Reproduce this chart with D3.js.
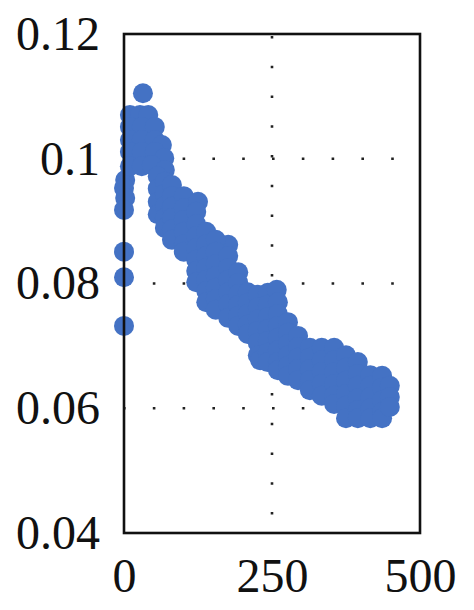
<!DOCTYPE html>
<html>
<head>
<meta charset="utf-8">
<script src="https://cdn.jsdelivr.net/npm/d3@7"></script>
<style>
  html, body { margin: 0; padding: 0; background: #fff; }
  svg { display: block; }
</style>
</head>
<body>
<svg id="chart" width="474" height="610"></svg>
<script>
// ---- data ----
const xDomain = [0, 500];
const yDomain = [0.04, 0.12];
const xTicks = [0, 250, 500];
const yTicks = [0.04, 0.06, 0.08, 0.1, 0.12];
const xGrid = [250];
const yGrid = [0.06, 0.08, 0.1];

// scatter series: [x, y]
const seriesPoints = [
  [32,0.1105],
  [2,0.0966],[0,0.0953],[2,0.0937],[0,0.0918],[0,0.0851],[0,0.0810],[0,0.0732],
  [10,0.1070],[27,0.1070],[41,0.1070],
  [10,0.1051],[30,0.1051],[52,0.1051],
  [10,0.1030],[30,0.1030],[52,0.1030],[64,0.1022],
  [10,0.1011],[30,0.1011],[52,0.1011],[68,0.1001],
  [10,0.0988],[30,0.0988],[47,0.0990],[69,0.0982],
  [57,0.0972],[57,0.0952],[57,0.0931],[57,0.0911],
  [69,0.0963],[69,0.0944],[69,0.0924],[69,0.0905],[69,0.0889],
  [81,0.0958],[81,0.0940],[81,0.0923],[81,0.0905],[81,0.0887],[81,0.0870],
  [101,0.0940],[101,0.0921],[101,0.0902],[101,0.0883],[101,0.0863],[101,0.0851],
  [125,0.0931],
  [122,0.0915],[122,0.0895],[122,0.0876],[122,0.0857],[122,0.0838],[122,0.0820],[122,0.0802],
  [139,0.0883],[139,0.0863],[139,0.0844],[139,0.0825],[139,0.0806],[139,0.0788],[139,0.0770],
  [176,0.0862],
  [155,0.0870],[155,0.0851],[155,0.0831],[155,0.0812],[155,0.0793],[155,0.0775],[155,0.0758],
  [176,0.0844],[176,0.0825],[176,0.0806],[176,0.0786],[176,0.0767],[176,0.0745],
  [193,0.0818],[193,0.0801],[193,0.0783],[193,0.0766],[193,0.0748],[193,0.0732],
  [209,0.0786],[209,0.0769],[209,0.0751],[209,0.0734],[209,0.0719],
  [226,0.0782],[226,0.0762],[226,0.0743],[226,0.0724],[226,0.0705],[226,0.0685],
  [230,0.0677],
  [243,0.0785],[243,0.0766],[243,0.0746],[243,0.0727],[243,0.0708],[243,0.0689],[243,0.0674],
  [258,0.0790],
  [260,0.0770],[260,0.0751],[260,0.0732],[260,0.0713],[260,0.0693],[260,0.0674],[260,0.0661],
  [277,0.0738],[277,0.0721],[277,0.0703],[277,0.0685],[277,0.0668],[277,0.0652],
  [294,0.0716],[294,0.0698],[294,0.0681],[294,0.0663],[294,0.0645],
  [314,0.0697],[314,0.0681],[314,0.0663],[314,0.0645],[314,0.0629],
  [334,0.0697],[334,0.0677],[334,0.0658],[334,0.0639],[334,0.0620],
  [355,0.0697],[355,0.0677],[355,0.0658],[355,0.0639],[355,0.0620],[355,0.0607],
  [375,0.0685],[375,0.0665],[375,0.0644],[375,0.0623],[375,0.0604],[375,0.0584],
  [395,0.0674],[395,0.0655],[395,0.0636],[395,0.0616],[395,0.0597],[395,0.0584],
  [416,0.0653],[416,0.0636],[416,0.0618],[416,0.0600],[416,0.0584],
  [436,0.0652],[436,0.0633],[436,0.0613],[436,0.0594],[436,0.0584],
  [449,0.0636],[449,0.0618],[449,0.0602]
];

// ---- layout ----
const plotLeft = 124, plotRight = 420, plotTop = 34, plotBottom = 533;
const svg = d3.select("#chart");
const x = d3.scaleLinear().domain(xDomain).range([plotLeft, plotRight]);
const y = d3.scaleLinear().domain(yDomain).range([plotBottom, plotTop]);
const font = "'Liberation Serif', 'Times New Roman', serif";

// grid (dotted)
svg.append("g").selectAll("line").data(yGrid).join("line")
  .attr("x1", plotLeft - 1).attr("x2", plotRight)
  .attr("y1", d => y(d)).attr("y2", d => y(d))
  .attr("stroke", "#222").attr("stroke-width", 2.6)
  .attr("stroke-dasharray", "2.6 27.2");
svg.append("g").selectAll("line").data(xGrid).join("line")
  .attr("x1", d => x(d)).attr("x2", d => x(d))
  .attr("y1", plotTop + 2).attr("y2", plotBottom)
  .attr("stroke", "#222").attr("stroke-width", 2.6)
  .attr("stroke-dasharray", "2.6 27.15");

// points
svg.append("g").selectAll("circle").data(seriesPoints).join("circle")
  .attr("cx", d => x(d[0])).attr("cy", d => y(d[1]))
  .attr("r", 10)
  .attr("fill", "#4472C4");

// frame
svg.append("rect")
  .attr("x", plotLeft).attr("y", plotTop)
  .attr("width", plotRight - plotLeft).attr("height", plotBottom - plotTop)
  .attr("fill", "none").attr("stroke", "#111").attr("stroke-width", 2.6);

// axes
const yAxis = d3.axisLeft(y).tickValues(yTicks).tickFormat(d => String(d))
  .tickSize(0).tickPadding(24);
const gy = svg.append("g").attr("transform", `translate(${plotLeft},0)`).call(yAxis);
gy.select(".domain").remove();
gy.selectAll("text").attr("font-family", font).attr("font-size", 48).attr("fill", "#111");

const xAxis = d3.axisBottom(x).tickValues(xTicks).tickFormat(d => String(d))
  .tickSize(0).tickPadding(25);
const gx = svg.append("g").attr("transform", `translate(0,${plotBottom})`).call(xAxis);
gx.select(".domain").remove();
gx.selectAll("text").attr("font-family", font).attr("font-size", 48).attr("fill", "#111");
</script>
</body>
</html>
